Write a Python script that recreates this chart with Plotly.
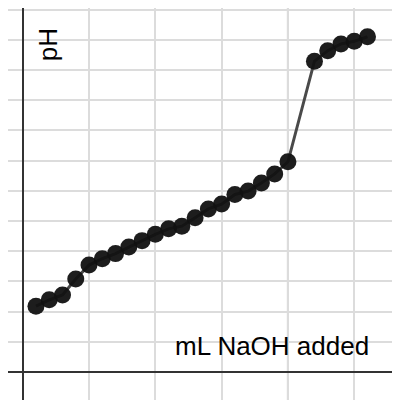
import plotly.graph_objects as go

# mL NaOH added vs pH
ml_naoh = [0.2, 0.4, 0.6, 0.8, 1.0, 1.2, 1.4, 1.6, 1.8, 2.0, 2.2, 2.4, 2.6,
           2.8, 3.0, 3.2, 3.4, 3.6, 3.8, 4.0, 4.4, 4.6, 4.8, 5.0, 5.2]
ph = [2.18, 2.39, 2.55, 3.08, 3.54, 3.75, 3.92, 4.14, 4.35, 4.56, 4.74, 4.83,
      5.11, 5.40, 5.56, 5.88, 5.99, 6.26, 6.56, 6.96, 10.29, 10.64, 10.86,
      10.95, 11.10]

x_range = [-0.222, 5.811]
y_range = [-1.192, 12.053]

fig = go.Figure()
fig.add_trace(go.Scatter(
    x=ml_naoh, y=ph, mode="lines+markers",
    line=dict(color="#4a4a4a", width=3),
    marker=dict(color="#111111", size=17, opacity=0.95),
    hoverinfo="skip",
))

# darker major grid lines
for xv in [4]:
    fig.add_shape(type="line", x0=xv, x1=xv, y0=0, y1=1, yref="paper",
                  line=dict(color="#a0a0a0", width=2), layer="below")
for yv in [5, 10]:
    fig.add_shape(type="line", y0=yv, y1=yv, x0=0, x1=1, xref="paper",
                  line=dict(color="#a0a0a0", width=2), layer="below")

fig.add_annotation(x=0.38, y=10.85, text="pH", textangle=-90, showarrow=False,
                   font=dict(size=26, color="black", family="Liberation Sans"))
fig.add_annotation(x=5.25, y=0.85, text="mL NaOH added", showarrow=False,
                   xanchor="right", font=dict(size=26, color="black",
                                              family="Liberation Sans"))

fig.update_xaxes(range=x_range, dtick=1, tick0=0, showgrid=True,
                 gridcolor="#dcdcdc", gridwidth=1.5, zeroline=True,
                 zerolinecolor="#333333", zerolinewidth=2,
                 showticklabels=False, ticks="")
fig.update_yaxes(range=y_range, dtick=1, tick0=0, showgrid=True,
                 gridcolor="#dcdcdc", gridwidth=1.5, zeroline=True,
                 zerolinecolor="#333333", zerolinewidth=2,
                 showticklabels=False, ticks="")
fig.update_layout(width=400, height=400, margin=dict(l=0, r=0, t=0, b=0),
                  plot_bgcolor="white", paper_bgcolor="white",
                  showlegend=False)

fig.write_html("out.html")
